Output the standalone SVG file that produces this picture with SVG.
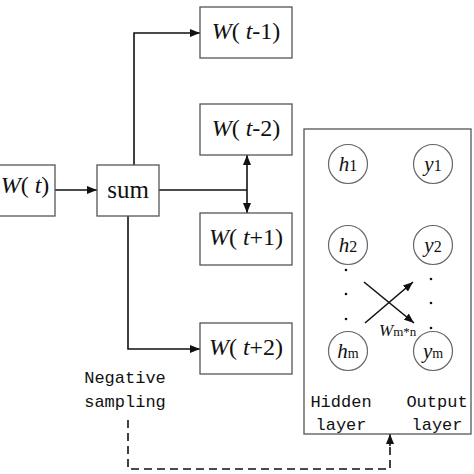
<svg xmlns="http://www.w3.org/2000/svg" width="474" height="474" viewBox="0 0 474 474">
<style>
.box{fill:#fff;stroke:#555;stroke-width:1.3}
.ln{fill:none;stroke:#111;stroke-width:1.6}
.dash{fill:none;stroke:#111;stroke-width:1.6;stroke-dasharray:8,5}
.circ{fill:#fff;stroke:#666;stroke-width:1.2}
.lbl{font-family:"Liberation Serif",serif;font-size:24px;fill:#111;text-anchor:middle}
.it{font-style:italic}
.mono{font-family:"Liberation Mono",monospace;font-size:17px;fill:#111;text-anchor:middle}
.nl{font-family:"Liberation Serif",serif;font-size:21px;fill:#111;text-anchor:middle}
.sub{font-size:16px}
.dot{fill:#111}
</style>
<defs>
<marker id="ah" viewBox="0 0 10 8" refX="10" refY="4" markerWidth="10" markerHeight="8" markerUnits="userSpaceOnUse" orient="auto">
<path d="M0,0 L10,4 L0,8 Z" fill="#111"/>
</marker>
</defs>
<rect width="474" height="474" fill="#fff"/>
<g id="connectors">
<line class="ln" x1="55" y1="190" x2="97" y2="190" marker-end="url(#ah)"/>
<polyline class="ln" points="134,165 134,33 200,33" marker-end="url(#ah)"/>
<polyline class="ln" points="159,190 247,190"/>
<line class="ln" x1="247" y1="190" x2="247" y2="155" marker-end="url(#ah)"/>
<line class="ln" x1="247" y1="190" x2="247" y2="213" marker-end="url(#ah)"/>
<polyline class="ln" points="128,216 128,349 200,349" marker-end="url(#ah)"/>
<polyline class="dash" points="128,420 128,469 390,469 390,445"/>
<line class="ln" x1="390" y1="446" x2="390" y2="434" marker-end="url(#ah)"/>
</g>
<g id="node-wt">
<rect class="box" x="-1" y="165" width="56" height="51"/>
<text class="lbl" x="25" y="193"><tspan class="it">W</tspan>( <tspan class="it">t</tspan>)</text>
</g>
<g id="node-sum">
<rect class="box" x="97" y="165" width="62" height="51"/>
<text class="lbl" x="128" y="198" style="font-size:25px">sum</text>
</g>
<g id="node-wt-1">
<rect class="box" x="200" y="7" width="92" height="51"/>
<text class="lbl" x="246" y="39"><tspan class="it">W</tspan>( <tspan class="it">t</tspan>-1)</text>
</g>
<g id="node-wt-2">
<rect class="box" x="200" y="104" width="92" height="51"/>
<text class="lbl" x="246" y="136"><tspan class="it">W</tspan>( <tspan class="it">t</tspan>-2)</text>
</g>
<g id="node-wt+1">
<rect class="box" x="200" y="213" width="92" height="52"/>
<text class="lbl" x="246" y="245"><tspan class="it">W</tspan>( <tspan class="it">t</tspan>+1)</text>
</g>
<g id="node-wt+2">
<rect class="box" x="200" y="323" width="92" height="51"/>
<text class="lbl" x="246" y="355"><tspan class="it">W</tspan>( <tspan class="it">t</tspan>+2)</text>
</g>
<g id="negative-sampling">
<text class="mono" x="125" y="383">Negative</text>
<text class="mono" x="125" y="407">sampling</text>
</g>
<g id="network">
<rect class="box" x="304" y="129" width="167" height="305"/>
<g id="node-h1"><circle class="circ" cx="348" cy="164" r="19.5"/><text class="nl" x="348" y="171"><tspan class="it">h</tspan><tspan class="sub">1</tspan></text></g>
<g id="node-y1"><circle class="circ" cx="433" cy="164" r="19.5"/><text class="nl" x="433" y="171"><tspan class="it">y</tspan><tspan class="sub">1</tspan></text></g>
<g id="node-h2"><circle class="circ" cx="348" cy="245" r="19.5"/><text class="nl" x="348" y="252"><tspan class="it">h</tspan><tspan class="sub">2</tspan></text></g>
<g id="node-y2"><circle class="circ" cx="433" cy="245" r="19.5"/><text class="nl" x="433" y="252"><tspan class="it">y</tspan><tspan class="sub">2</tspan></text></g>
<g id="node-hm"><circle class="circ" cx="348" cy="351" r="19.5"/><text class="nl" x="348" y="358"><tspan class="it">h</tspan><tspan class="sub" style="font-size:14px">m</tspan></text></g>
<g id="node-ym"><circle class="circ" cx="433" cy="351" r="19.5"/><text class="nl" x="433" y="358"><tspan class="it">y</tspan><tspan class="sub" style="font-size:14px">m</tspan></text></g>
<circle class="dot" cx="346" cy="270" r="1.3"/>
<circle class="dot" cx="346" cy="294" r="1.3"/>
<circle class="dot" cx="346" cy="319" r="1.3"/>
<circle class="dot" cx="431" cy="279" r="1.3"/>
<circle class="dot" cx="431" cy="303" r="1.3"/>
<circle class="dot" cx="431" cy="328" r="1.3"/>
<line class="ln" x1="364" y1="282" x2="414" y2="323" marker-end="url(#ah)"/>
<line class="ln" x1="365" y1="323" x2="413" y2="282" marker-end="url(#ah)"/>
<text x="379" y="336" style="font-family:'Liberation Serif',serif;fill:#111"><tspan class="it" style="font-size:17px">W</tspan><tspan style="font-size:13px">m*n</tspan></text>
<text class="mono" x="341" y="407">Hidden</text>
<text class="mono" x="341" y="430">layer</text>
<text class="mono" x="437" y="407">Output</text>
<text class="mono" x="437" y="430">layer</text>
</g>
</svg>
